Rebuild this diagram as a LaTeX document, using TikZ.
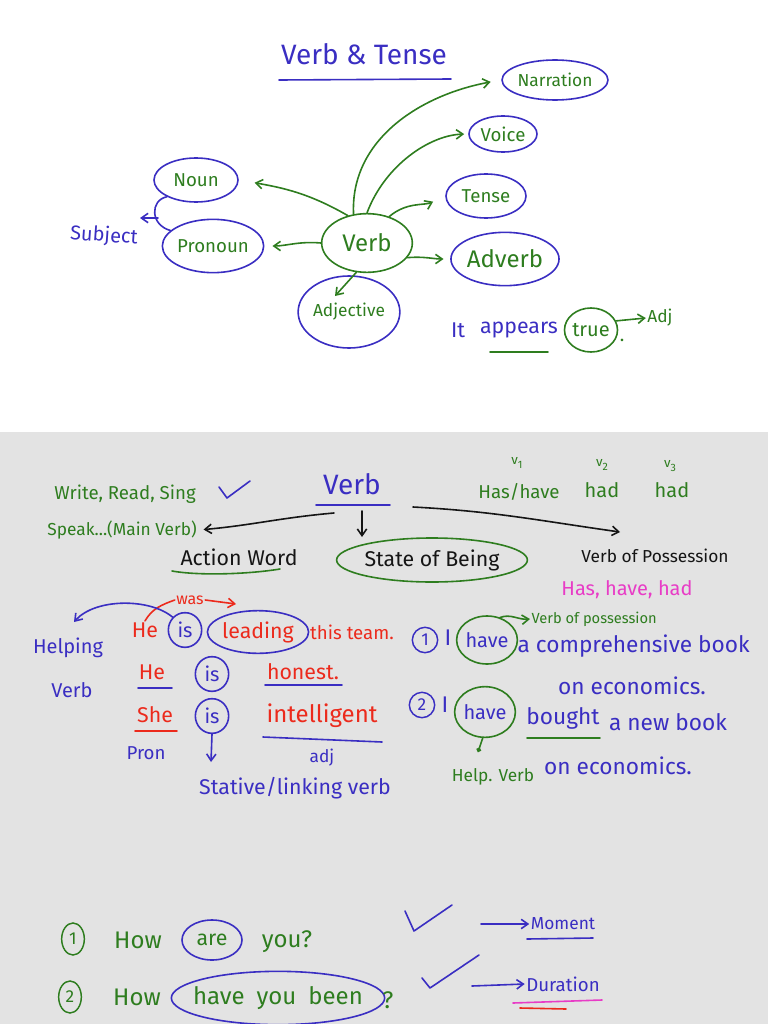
\documentclass[tikz,border=0pt]{standalone}
\usepackage{fontspec}
\setmainfont{Fira Sans}
\usetikzlibrary{shapes.geometric, arrows.meta, positioning, calc}
\definecolor{inkblue}{HTML}{3A2EC2}
\definecolor{inkgreen}{HTML}{2E7D1F}
\definecolor{inkred}{HTML}{EC2A1C}
\definecolor{inkpink}{HTML}{E83CC6}
\definecolor{inkblack}{HTML}{151515}
\definecolor{boardbg}{HTML}{E3E3E3}
\newcommand{\pen}[1]{\fontsize{#1}{#1}\selectfont}
\tikzstyle{ring} = [ellipse, draw=inkblue, line width=1.2pt, text=inkgreen, inner sep=0pt]
\tikzstyle{greenring} = [ring, draw=inkgreen]
\tikzstyle{isring} = [ellipse, draw=inkblue, line width=1.2pt, text=inkblue, minimum width=25pt, minimum height=26pt, inner sep=0pt, font=\pen{15}]
\tikzstyle{num} = [circle, draw=inkblue, text=inkblue, line width=1.1pt, minimum size=19pt, inner sep=0pt, font=\pen{13}]
\tikzstyle{gnum} = [num, ellipse, draw=inkgreen, text=inkgreen, minimum width=17pt, minimum height=24pt]
\tikzstyle{stroke} = [line width=1.2pt, line cap=round, line join=round]
\tikzstyle{arrow} = [stroke, -{Straight Barb[length=5pt, width=7pt]}]

\begin{document}
\begin{tikzpicture}[x=0.75pt, y=-0.75pt, every node/.style={inner sep=1pt, font=\pen{14}}]
    \useasboundingbox (0,0) rectangle (768,1024);
    \fill[boardbg] (0,432) rectangle (768,1024);

    % mind map
    \node[text=inkblue, font=\pen{21}] (title) at (364,54) {Verb \& Tense};
    \draw[stroke, inkblue] (279,80) -- (451,79);

    \node[greenring, minimum width=68pt, minimum height=44pt, font=\pen{18}] (verbtop) at (367,243) {Verb};
    \node[ring, minimum width=63pt, minimum height=33pt] (noun) at (196,180) {Noun};
    \node[ring, minimum width=75pt, minimum height=40pt] (pronoun) at (213,246) {Pronoun};
    \node[ring, minimum width=75pt, minimum height=30pt, font=\pen{13}] (narration) at (555,80) {Narration};
    \node[ring, minimum width=51pt, minimum height=27pt] (voice) at (503,134) {Voice};
    \node[ring, minimum width=60pt, minimum height=33pt] (tense) at (486,196) {Tense};
    \node[ring, minimum width=75pt, minimum height=40pt, font=\pen{18}] (adverb) at (505,259) {Adverb};
    \node[ring, minimum width=72pt, minimum height=54pt, font=\pen{13}] (adjective) at (349,312) {Adjective};
    \node[text=inkblue, rotate=-4, font=\pen{15}] (subject) at (104,236) {Subject};

    \coordinate (fork) at (158,218);
    \coordinate (subjtip) at (140,218);
    \coordinate (adjtip) at (335,296);
    \draw[stroke, inkblue] (noun.210) .. controls (150,200) and (150,225) .. (pronoun.160);
    \draw[arrow, inkblue] (fork) -- (subjtip);

    \draw[arrow, inkgreen, shorten >=12pt] (verbtop.125) to[out=150, in=-10] (noun.east);
    \draw[arrow, inkgreen, shorten >=6pt] (verbtop.west) to[out=175, in=0] (pronoun.east);
    \draw[arrow, inkgreen, shorten >=8pt] (verbtop.115) .. controls (350,140) and (420,95) .. (narration.west);
    \draw[arrow, inkgreen, shorten >=3pt] (verbtop.90) .. controls (385,165) and (430,135) .. (voice.west);
    \draw[arrow, inkgreen, shorten >=10pt] (verbtop.50) to[out=40, in=205] (tense.west);
    \draw[arrow, inkgreen, shorten >=5pt] (verbtop.-20) to[out=5, in=180] (adverb.west);
    \draw[arrow, inkgreen] (verbtop.250) -- (adjtip);

    \node[text=inkblue, font=\pen{16}] (it) at (458,330) {It};
    \node[text=inkblue, font=\pen{16}] (appears) at (519,330) {appears};
    \draw[stroke, inkgreen] (490,352) -- (548,352);
    \node[greenring, minimum width=39pt, minimum height=33pt, font=\pen{15}] (true) at (591,330) {true};
    \node[text=inkgreen] (truedot) at (622,340) {.};
    \node[text=inkgreen, font=\pen{13}] (adj) at (660,318) {Adj};
    \draw[arrow, inkgreen] (true.20) -- (adj.west);

    % board
    \node[text=inkblue, font=\pen{21}] (verb) at (352,484) {Verb};
    \draw[stroke, inkblue] (316,505) -- (390,505);
    \node[text=inkgreen] (writes) at (125,494) {Write, Read, Sing};
    \draw[stroke, inkblue] (219,487) -- (227,498) -- (250,481);
    \node[text=inkgreen, font=\pen{13}] (speak) at (122,530) {Speak...(Main Verb)};
    \coordinate (actfrom) at (334,513);
    \draw[arrow, inkblack, shorten >=4pt] (actfrom) to[out=185, in=5] (speak.east);
    \coordinate (downfrom) at (362,511);
    \coordinate (downto) at (362,537);
    \draw[arrow, inkblack] (downfrom) -- (downto);
    \node[text=inkblack, font=\pen{16}] (action) at (239,557) {Action Word};
    \draw[stroke, inkgreen] (172,571) .. controls (200,576) and (250,574) .. (280,569);
    \node[greenring, text=inkblack, minimum width=135pt, minimum height=33pt, font=\pen{16}] (state) at (432,560) {State of Being};
    \coordinate (possfrom) at (413,507);
    \coordinate (posstip) at (620,532);
    \draw[arrow, inkblack] (possfrom) to[out=-3, in=172] (posstip);

    \node[text=inkgreen] (hashave) at (519,492) {Has/have};
    \node[text=inkgreen, font=\pen{15}] (had2) at (602,490) {had};
    \node[text=inkgreen, font=\pen{15}] (had3) at (672,490) {had};
    \node[text=inkgreen, font=\pen{10}] (vone) at (517,463) {v\raisebox{-3pt}{\pen{8}1}};
    \node[text=inkgreen, font=\pen{10}] (vtwo) at (602,465) {v\raisebox{-3pt}{\pen{8}2}};
    \node[text=inkgreen, font=\pen{10}] (vthree) at (670,466) {v\raisebox{-3pt}{\pen{8}3}};
    \node[text=inkblack, font=\pen{13}] (possession) at (655,556) {Verb of Possession};
    \node[text=inkpink, font=\pen{15}] (hhh) at (627,590) {Has, have, had};

    \node[text=inkblue, font=\pen{15}] (helping) at (68,648) {Helping};
    \node[text=inkblue, font=\pen{15}] (helpverb) at (72,690) {Verb};

    \node[text=inkred, font=\pen{16}] (he1) at (145,630) {He};
    \node[isring] (is1) at (185,630) {is};
    \node[ring, text=inkred, minimum width=69pt, minimum height=32pt, font=\pen{16}] (leading) at (258,632) {leading};
    \node[text=inkred] (team) at (352,632) {this team.};
    \node[text=inkred, font=\pen{12}] (was) at (190,600) {was};
    \coordinate (wastip) at (236,604);
    \coordinate (helptip) at (74,622);
    \draw[stroke, inkred] (he1.north) to[out=60, in=200] (was.west);
    \draw[arrow, inkred] (was.east) -- (wastip);
    \draw[arrow, inkblue] (is1.north west) .. controls (150,598) and (95,598) .. (helptip);

    \node[text=inkred, font=\pen{16}] (he2) at (152,672) {He};
    \draw[stroke, inkblue] (138,688) -- (172,688);
    \node[isring] (is2) at (212,674) {is};
    \node[text=inkred, font=\pen{16}] (honest) at (303,672) {honest.};
    \draw[stroke, inkblue] (265,685) -- (342,685);

    \node[text=inkred, font=\pen{16}] (she) at (155,715) {She};
    \draw[stroke, inkred] (135,731) -- (177,731);
    \node[isring] (is3) at (212,716) {is};
    \node[text=inkred, font=\pen{18}] (intelligent) at (322,716) {intelligent};
    \draw[stroke, inkblue] (263,737) -- (382,742);
    \node[text=inkblue] (pron) at (146,753) {Pron};
    \coordinate (stativetip) at (211,762);
    \draw[arrow, inkblue] (is3.south) -- (stativetip);
    \node[text=inkblue, font=\pen{13}] (adjb) at (322,758) {adj};
    \node[text=inkblue, font=\pen{16}] (stative) at (295,788) {Stative/linking verb};

    \node[num] (one) at (425,640) {1};
    \node[text=inkblue, font=\pen{17}] (ione) at (448,638) {I};
    \node[greenring, text=inkblue, minimum width=42pt, minimum height=36pt, font=\pen{15}] (have1) at (487,640) {have};
    \node[text=inkblue, font=\pen{17}, anchor=west] (comp) at (516,646) {a comprehensive book};
    \node[text=inkgreen, font=\pen{11}, anchor=west] (vposs) at (530,619) {Verb of possession};
    \draw[arrow, inkgreen] (have1.60) to[out=20, in=185] (vposs.west);
    \node[text=inkblue, font=\pen{17}] (econ1) at (632,686) {on economics.};

    \node[num] (two) at (422,705) {2};
    \node[text=inkblue, font=\pen{17}] (itwo) at (445,705) {I};
    \node[greenring, text=inkblue, minimum width=42pt, minimum height=38pt, font=\pen{15}] (have2) at (485,712) {have};
    \node[text=inkblue, font=\pen{17}] (bought) at (563,718) {bought};
    \draw[stroke, inkgreen] (527,738) -- (600,738);
    \node[text=inkblue, font=\pen{17}] (newbook) at (668,722) {a new book};
    \node[text=inkblue, font=\pen{17}] (econ2) at (618,766) {on economics.};
    \node[text=inkgreen, font=\pen{13}] (helpv) at (493,777) {Help. Verb};
    \coordinate (helpdot) at (478,752);
    \draw[stroke, inkgreen, -{Circle[length=3.5pt]}] (have2.265) -- (helpdot);

    \node[gnum] (qone) at (73,939) {1};
    \node[text=inkgreen, font=\pen{18}] (how1) at (138,940) {How};
    \node[ring, minimum width=45pt, minimum height=30pt, font=\pen{16}] (are) at (212,940) {are};
    \node[text=inkgreen, font=\pen{18}] (you1) at (287,942) {you?};
    \node[gnum] (qtwo) at (70,997) {2};
    \node[text=inkgreen, font=\pen{18}] (how2) at (137,997) {How};
    \node[ring, inner xsep=-14pt, minimum width=160pt, minimum height=40pt, font=\pen{18}] (hyb) at (278,998) {have\enspace you\enspace been};
    \node[text=inkgreen, font=\pen{18}] (qmark) at (388,1000) {?};

    \draw[stroke, inkblue] (405,911) -- (414,931) -- (452,905);
    \draw[stroke, inkblue] (422,978) -- (430,988) -- (479,955);
    \coordinate (mfrom) at (481,924);
    \node[text=inkblue, font=\pen{13}] (moment) at (563,924) {Moment};
    \draw[arrow, inkblue] (mfrom) -- (moment.west);
    \draw[stroke, inkblue] (527,939) -- (593,938);
    \coordinate (dfrom) at (472,986);
    \node[text=inkblue] (duration) at (563,984) {Duration};
    \draw[arrow, inkblue] (dfrom) -- (duration.west);
    \draw[stroke, inkpink] (513,1003) -- (602,1000);
    \draw[stroke, inkred] (520,1008) -- (566,1009);
\end{tikzpicture}
\end{document}
